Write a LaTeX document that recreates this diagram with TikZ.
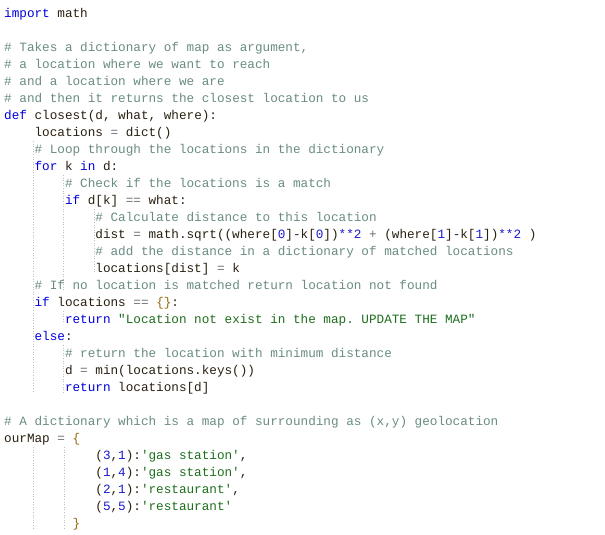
\documentclass[tikz,border=0pt]{standalone}
\usepackage{fontspec}
\setmonofont{Liberation Mono}
\definecolor{kwc}{HTML}{0000E0}
\definecolor{cmc}{HTML}{6A8C84}
\definecolor{nmc}{HTML}{1A1AD0}
\definecolor{stc}{HTML}{1E6E1E}
\definecolor{txc}{HTML}{2A2010}
\definecolor{opc}{HTML}{707070}
\definecolor{brc}{HTML}{9A6A10}
\newcommand{\kw}[1]{\textcolor{kwc}{#1}}
\newcommand{\cm}[1]{\textcolor{cmc}{#1}}
\newcommand{\nm}[1]{\textcolor{nmc}{#1}}
\newcommand{\st}[1]{\textcolor{stc}{#1}}
\newcommand{\op}[1]{\textcolor{opc}{#1}}
\newcommand{\br}[1]{\textcolor{brc}{#1}}
\tikzset{codeline/.style={anchor=base west,inner sep=0pt,font=\ttfamily\fontsize{12.67}{14}\selectfont,text=txc},
guide/.style={draw=black!25,dotted,line width=0.6pt}}
\newcommand{\cl}[3]{\node[codeline] (l#2) at ({4+7.6*#1},{13+17*(#2-1)+4.5}) {#3};}
\begin{document}
\begin{tikzpicture}[x=1pt,y=-1pt]
\useasboundingbox[fill=white] (0,0) rectangle (605,535);
\foreach \gx/\ya/\yb in {34/141/392, 64/175/290, 64/311/324, 64/345/392, 95/209/273, 34/447/530, 65/447/530}
  \draw[guide] (\gx-0.5,\ya) -- (\gx-0.5,\yb);
\cl{0}{1}{\kw{import} math}
\cl{0}{3}{\cm{\# Takes a dictionary of map as argument,}}
\cl{0}{4}{\cm{\# a location where we want to reach}}
\cl{0}{5}{\cm{\# and a location where we are}}
\cl{0}{6}{\cm{\# and then it returns the closest location to us}}
\cl{0}{7}{\kw{def} closest(d, what, where):}
\cl{4}{8}{locations \op{=} dict()}
\cl{4}{9}{\cm{\# Loop through the locations in the dictionary}}
\cl{4}{10}{\kw{for} k \kw{in} d:}
\cl{8}{11}{\cm{\# Check if the locations is a match}}
\cl{8}{12}{\kw{if} d[k] \op{==} what:}
\cl{12}{13}{\cm{\# Calculate distance to this location}}
\cl{12}{14}{dist \op{=} math.sqrt((where[\nm{0}]-k[\nm{0}])\nm{**2} \op{+} (where[\nm{1}]-k[\nm{1}])\nm{**2} )}
\cl{12}{15}{\cm{\# add the distance in a dictionary of matched locations}}
\cl{12}{16}{locations[dist] \op{=} k}
\cl{4}{17}{\cm{\# If no location is matched return location not found}}
\cl{4}{18}{\kw{if} locations \op{==} \br{\{\}}:}
\cl{8}{19}{\kw{return} \st{"Location not exist in the map. UPDATE THE MAP"}}
\cl{4}{20}{\kw{else}:}
\cl{8}{21}{\cm{\# return the location with minimum distance}}
\cl{8}{22}{d \op{=} min(locations.keys())}
\cl{8}{23}{\kw{return} locations[d]}
\cl{0}{25}{\cm{\# A dictionary which is a map of surrounding as (x,y) geolocation}}
\cl{0}{26}{ourMap \op{=} \br{\{}}
\cl{12}{27}{(\nm{3},\nm{1}):\st{'gas station'},}
\cl{12}{28}{(\nm{1},\nm{4}):\st{'gas station'},}
\cl{12}{29}{(\nm{2},\nm{1}):\st{'restaurant'},}
\cl{12}{30}{(\nm{5},\nm{5}):\st{'restaurant'}}
\cl{9}{31}{\br{\}}}
\end{tikzpicture}
\end{document}
